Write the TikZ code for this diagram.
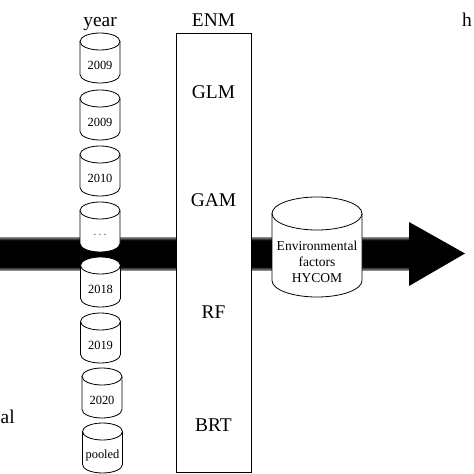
\documentclass[tikz,border=0pt]{standalone}
\usepackage{fontspec}
\setmainfont{Liberation Serif}
\pgfdeclareverticalshading{band}{100bp}{color(0bp)=(black!45); color(25bp)=(black!45); color(30bp)=(black); color(70bp)=(black); color(75bp)=(black!45); color(100bp)=(black!45)}
\newcommand\mkcyl[5]{% cx, top, bottom, rx, ry
  \path[cylline] (#1-#4,#2+#5) -- (#1-#4,#3-#5)
    arc[start angle=180,end angle=360,x radius=#4bp,y radius=#5bp]
    -- (#1+#4,#2+#5)
    arc[start angle=0,end angle=180,x radius=#4bp,y radius=#5bp] -- cycle;
  \draw[cylline,fill=none] (#1-#4,#2+#5)
    arc[start angle=180,end angle=360,x radius=#4bp,y radius=#5bp];
}
\newcommand\yearcyl[4]{% name, cx, top, label
  \mkcyl{#2}{#3}{#3+50}{20}{8.5}
  \node[yearlbl] (#1) at (#2,#3+32.5) {#4};
}
\begin{document}
\begin{tikzpicture}[x=1bp,y=-1bp,
  big/.style={font=\fontsize{19.5}{22}\selectfont, inner sep=0pt},
  yearlbl/.style={font=\fontsize{12.5}{14}\selectfont, inner sep=0pt},
  envlbl/.style={font=\fontsize{13.6}{15.8}\selectfont, inner sep=0pt, align=center},
  cylline/.style={draw=black, fill=white, line width=0.8bp},
  enmbox/.style={draw=black, fill=white, line width=0.8bp, inner sep=0pt}]
\useasboundingbox (0,0) rectangle (474,474);
\clip (0,0) rectangle (474,474);
\fill[white] (0,0) rectangle (474,474);

% big arrow
\coordinate (tail) at (-2,253.5);
\coordinate (tip) at (465,253.5);
\shade[shading=band] (tail) ++(0,-16.5) -- (409.5,237) -- (409.5,270) -- (-2,270) -- cycle;
\fill[black] (409,222) -- (tip) -- (409,286) -- cycle;

% year cylinders
\yearcyl{y1}{100}{33}{2009}
\yearcyl{y2}{100}{90}{2009}
\yearcyl{y3}{100}{146}{2010}
\yearcyl{y4}{100}{202}{\textcolor{black!60}{.\,.\,.}}
\yearcyl{y5}{100.5}{257}{2018}
\yearcyl{y6}{100.5}{313}{2019}
\yearcyl{y7}{102}{368}{2020}
\yearcyl{y8}{102.5}{423}{pooled}

% ENM box
\node[enmbox, minimum width=75bp, minimum height=439bp] (enm) at (213.5,252.5) {};
\node[big] (glm) at (213.5,92) {GLM};
\node[big] (gam) at (213.5,200) {GAM};
\node[big] (rf) at (213.5,312) {RF};
\node[big] (brt) at (213.5,425) {BRT};

% environmental cylinder
\mkcyl{317}{197}{297}{45}{16.5}
\node[envlbl] (env) at (317,262) {Environmental\\factors\\HYCOM};

% headers and edge text
\node[big, anchor=base] (year) at (100,27) {year};
\node[big, anchor=base] (enmt) at (213.5,27) {ENM};
\node[big, anchor=base west] (hcut) at (462,27) {h};
\node[big, anchor=base west] (alcut) at (0.5,423) {al};
\end{tikzpicture}
\end{document}
